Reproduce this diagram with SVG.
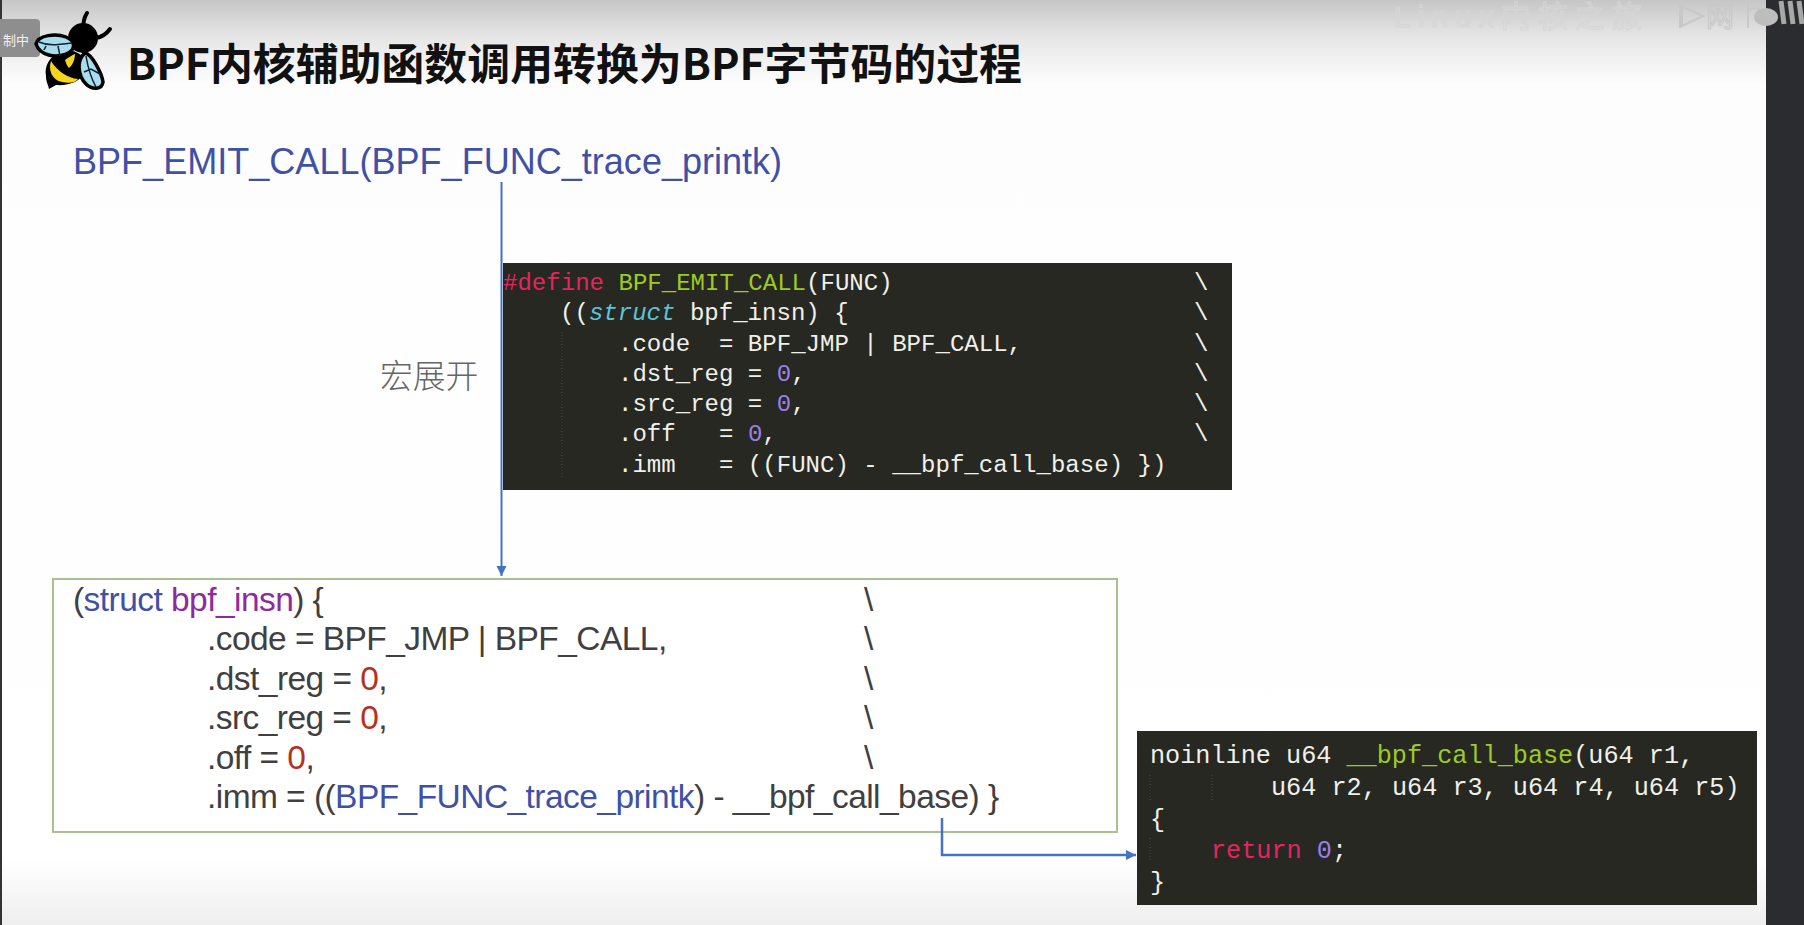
<svg xmlns="http://www.w3.org/2000/svg" width="1804" height="925" viewBox="0 0 1804 925">
<style>
.mono{font-family:"Liberation Mono","DejaVu Sans Mono",monospace;white-space:pre}
.c1{font-size:24.05px;fill:#f0f0ea}
.c2{font-size:25.2px;fill:#f0f0ea}
.pk{fill:#e6245f}.gr{fill:#9ccb26}.cy{fill:#5cc3d8;font-style:italic}.pu{fill:#9b7fe8}
.sans{font-family:"Liberation Sans",Arial,sans-serif;white-space:pre}
.body{font-size:33.5px;fill:#404040;letter-spacing:-0.55px}
.bl{fill:#3f51a5}.re{fill:#b5301f}.mg{fill:#8e2a9c}
.cjk{font-family:"Liberation Sans","Noto Sans CJK SC",sans-serif}
.conn{fill:none;stroke:#4472c4;stroke-width:2}
.guide{stroke:#4a4a44;stroke-width:1;stroke-dasharray:1 2}
.vein{stroke:#123;stroke-width:1.5;fill:none}
</style>
<defs>
<linearGradient id="bg" x1="0" y1="0" x2="0" y2="1">
<stop offset="0" stop-color="#c6c6c6"/><stop offset="0.04" stop-color="#e6e6e6"/><stop offset="0.09" stop-color="#fdfdfd"/><stop offset="0.93" stop-color="#ffffff"/><stop offset="1" stop-color="#eeeeee"/>
</linearGradient>
<marker id="arr" markerUnits="userSpaceOnUse" markerWidth="12" markerHeight="12" refX="10" refY="5" orient="auto"><path d="M0 0L10 5L0 10Z" fill="#4472c4"/></marker>
</defs>
<rect width="1804" height="925" fill="url(#bg)"/>
<rect x="0" y="0" width="2" height="925" fill="#333"/>
<rect x="1766" y="0" width="38" height="925" fill="#2b2c30"/>
<g id="watermark">
<text x="1394" y="27" class="cjk" font-size="30" letter-spacing="7" fill="none" stroke="#d6d6d6" stroke-width="1">Linux内核之旅</text>
<path d="M1680 4V28M1682 6L1703 16L1682 26Z" fill="none" stroke="#c8c8c8" stroke-width="2"/>
<text x="1706" y="27" class="cjk" font-size="28" fill="none" stroke="#c8c8c8" stroke-width="1">网</text>
<path d="M1748 2V28M1750 10C1756 6 1762 10 1766 12" fill="none" stroke="#c8c8c8" stroke-width="2"/>
<ellipse cx="1766" cy="17" rx="12" ry="9" fill="#bdbdbd"/>
<path d="M1781 1l3 23M1790 1l3 23M1799 1l3 23" stroke="#a8a8a8" stroke-width="5"/>
</g>
<g id="badge">
<rect x="-6" y="19" width="46" height="38" rx="4" fill="#8e8e8e"/>
<text x="3" y="45" class="cjk" font-size="13" fill="#f2f2f2">制中</text>
</g>
<g id="bee">
<path d="M83 30Q83 19 87 13" fill="none" stroke="#000" stroke-width="4" stroke-linecap="round"/>
<path d="M96 38Q104 37 110 29" fill="none" stroke="#000" stroke-width="4" stroke-linecap="round"/>
<circle cx="83" cy="38" r="15" fill="#000"/>
<path d="M60 52C50 56 44 66 46 76C46 82 48 84 49 89L56 85C68 86 80 82 86 72C92 60 76 46 60 52Z" fill="#000"/>
<path d="M51 61C48 70 52 80 62 82C70 84 76 82 78 79C68 78 58 72 51 61Z" fill="#f7d51d"/>
<path d="M65 60C68 58 72 55 75 54C75 60 72 66 69 68C67 66 66 63 65 60Z" fill="#f7d51d"/>
<path d="M36 44C38 35 56 33 66 37C76 41 76 50 66 54C56 58 40 56 36 44Z" fill="#a9dcec" stroke="#000" stroke-width="3.500"/>
<path class="vein" d="M39 42C48 46 56 45 72 43M46 46L44 50M58 46L60 56"/>
<path d="M85 53C92 54 102 74 103 82C102 90 92 90 86 84C78 76 76 60 85 53Z" fill="#a9dcec" stroke="#000" stroke-width="3.500"/>
<path class="vein" d="M86 56C88 68 92 80 96 87M84 72L91 69L100 74"/>
</g>
<g id="title"><text x="127" y="80" font-family="Noto Sans CJK SC,sans-serif" font-weight="700" font-size="42.900" fill="#111">BPF内核辅助函数调用转换为BPF字节码的过程</text></g>
<g id="macro-call"><text x="73" y="174" class="sans bl" font-size="36.050">BPF_EMIT_CALL(BPF_FUNC_trace_printk)</text></g>
<g id="label-expand"><text x="380" y="388" font-family="Noto Sans CJK SC,sans-serif" font-weight="300" font-size="32.800" fill="#666">宏展开</text></g>
<g id="define-block">
<rect x="503" y="263" width="729" height="227" fill="#272822"/>
<line class="guide" x1="562" y1="332" x2="562" y2="478"/>
<text class="mono c1" x="503" y="290"><tspan class="pk">#define</tspan> <tspan class="gr">BPF_EMIT_CALL</tspan>(FUNC)</text>
<text class="mono c1" x="1194" y="290">\</text>
<text class="mono c1" x="560" y="320">((<tspan class="cy">struct</tspan> bpf_insn) {</text>
<text class="mono c1" x="1194" y="320">\</text>
<text class="mono c1" x="618" y="351">.code  = BPF_JMP | BPF_CALL,</text>
<text class="mono c1" x="1194" y="351">\</text>
<text class="mono c1" x="618" y="381">.dst_reg = <tspan class="pu">0</tspan>,</text>
<text class="mono c1" x="1194" y="381">\</text>
<text class="mono c1" x="618" y="411">.src_reg = <tspan class="pu">0</tspan>,</text>
<text class="mono c1" x="1194" y="411">\</text>
<text class="mono c1" x="618" y="441">.off   = <tspan class="pu">0</tspan>,</text>
<text class="mono c1" x="1194" y="441">\</text>
<text class="mono c1" x="618" y="472">.imm   = ((FUNC) - __bpf_call_base) })</text>
</g>
<g id="expanded-box">
<rect x="53" y="579" width="1064" height="253" fill="#fff" stroke="#a9c08f" stroke-width="2"/>
<text class="sans body" x="73" y="611">(<tspan class="bl">struct</tspan> <tspan class="mg">bpf_insn</tspan>) {</text>
<text class="sans body" x="864" y="611">\</text>
<text class="sans body" x="207" y="650">.code = BPF_JMP | BPF_CALL,</text>
<text class="sans body" x="864" y="650">\</text>
<text class="sans body" x="207" y="690">.dst_reg = <tspan class="re">0</tspan>,</text>
<text class="sans body" x="864" y="690">\</text>
<text class="sans body" x="207" y="729">.src_reg = <tspan class="re">0</tspan>,</text>
<text class="sans body" x="864" y="729">\</text>
<text class="sans body" x="207" y="769">.off = <tspan class="re">0</tspan>,</text>
<text class="sans body" x="864" y="769">\</text>
<text class="sans body" x="207" y="808">.imm = ((<tspan class="bl">BPF_FUNC_trace_printk</tspan>) - __bpf_call_base) }</text>
</g>
<g id="base-func-block">
<rect x="1137" y="731" width="620" height="174" fill="#272822"/>
<line class="guide" x1="1150" y1="775" x2="1150" y2="800"/>
<line class="guide" x1="1212" y1="775" x2="1212" y2="800"/>
<line class="guide" x1="1150" y1="838" x2="1150" y2="862"/>
<text class="mono c2" x="1150" y="763">noinline u64 <tspan class="gr">__bpf_call_base</tspan>(u64 r1,</text>
<text class="mono c2" x="1271" y="795">u64 r2, u64 r3, u64 r4, u64 r5)</text>
<text class="mono c2" x="1150" y="827">{</text>
<text class="mono c2" x="1211" y="858"><tspan class="pk">return</tspan> <tspan class="pu">0</tspan>;</text>
<text class="mono c2" x="1150" y="890">}</text>
</g>
<g id="connectors">
<path class="conn" d="M501.500 182V576" marker-end="url(#arr)"/>
<path class="conn" stroke-width="2.500" style="stroke-width:2.500px" d="M942 818V855H1136" marker-end="url(#arr)"/>
</g>
</svg>
